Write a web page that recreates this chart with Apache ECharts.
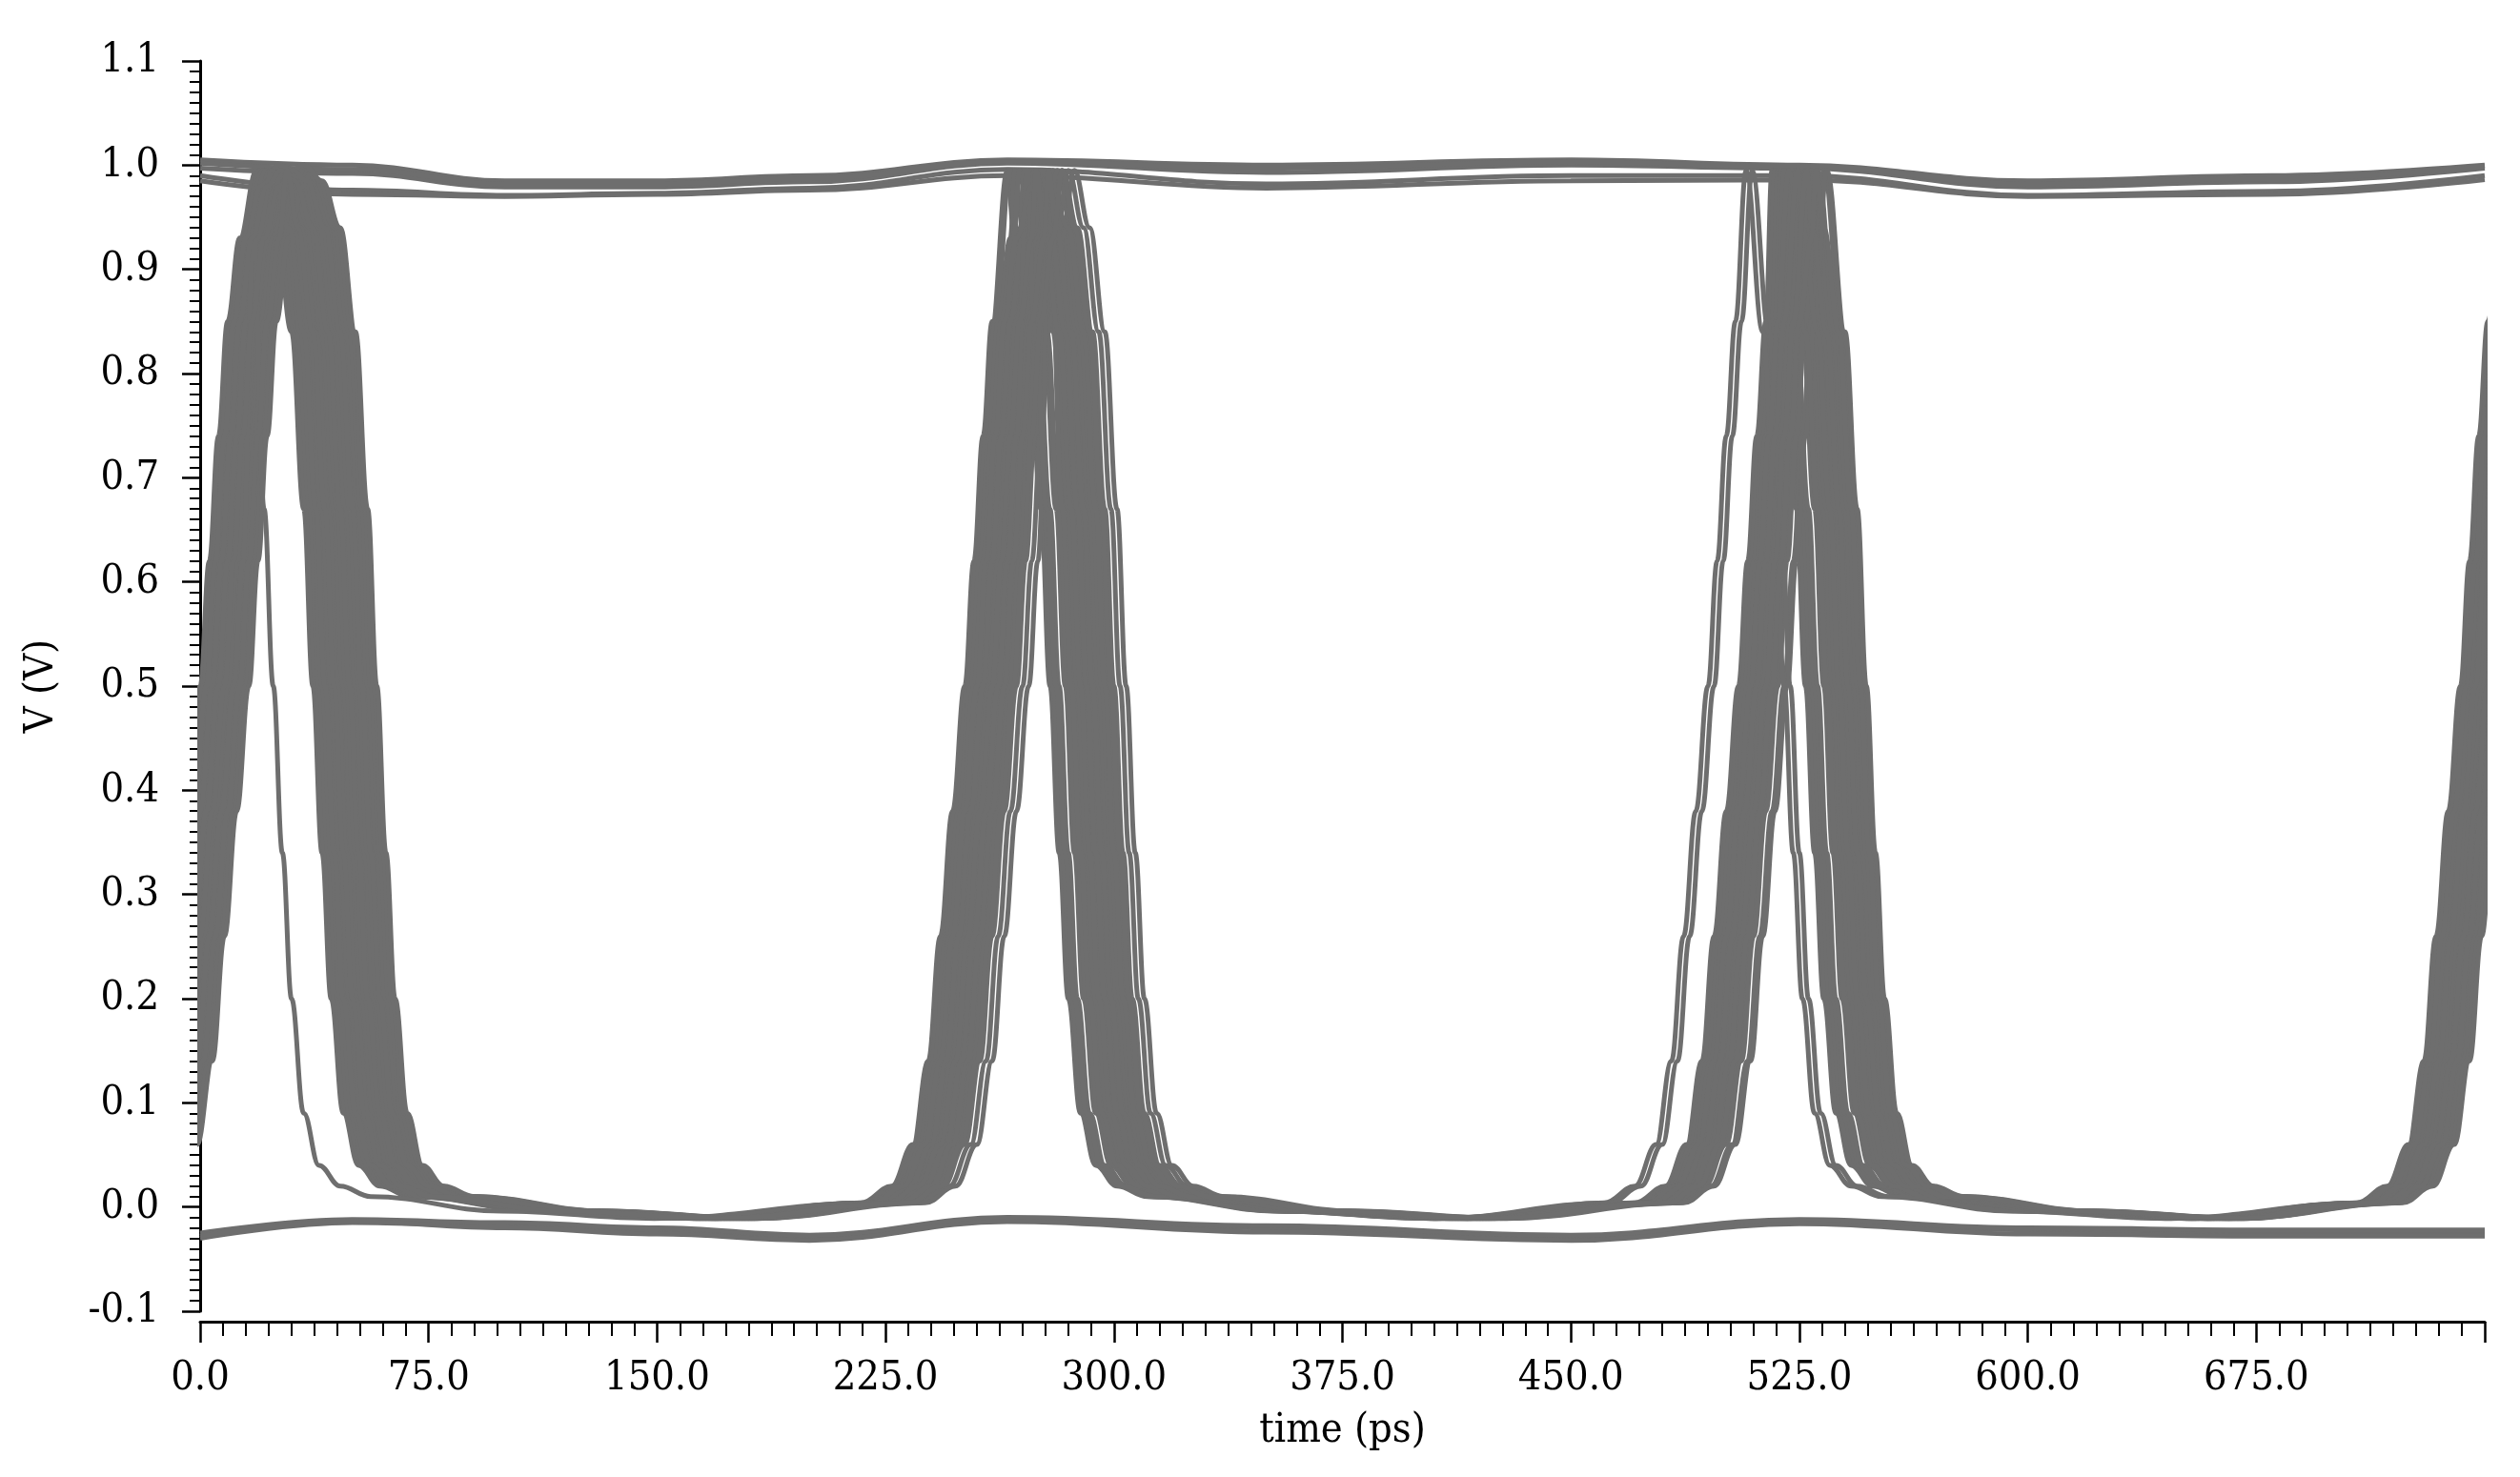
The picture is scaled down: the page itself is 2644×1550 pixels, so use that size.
<!DOCTYPE html>
<html>
<head>
<meta charset="utf-8">
<script src="https://cdn.jsdelivr.net/npm/echarts@6/dist/echarts.min.js"></script>
<style>html,body{margin:0;background:#fff}#chart{width:2644px;height:1550px}</style>
</head>
<body>
<div id="chart"></div>
<script>
// 眼图数据：每条脉冲轨迹在各窗口的上升/下降 50% 时刻 (ps)
var riseW1 = [0, 1, 2, 3, 4, 5, 6, 7, 8, 9, 10, 11, 12, 13, 14, 15, 16, 2, 6, 9, 11, 4, 8, 13];
var fallW1 = [37, 38, 39, 40, 42, 43, 44, 46, 47, 48, 50, 51, 52, 54, 55, 56, 57, 58, 41, 45, 24, 49, 53, 44];
var riseW2 = [251, 252, 253, 254, 256, 257, 258, 259, 260, 261, 262, 263, 264, 265, 266, 268, 270, 272, 257, 262, 255, 260, 264, 267];
var fallW2 = [279, 280, 282, 284, 285, 287, 288, 290, 291, 292, 294, 295, 296, 298, 300, 302, 304, 286, 291, 281, 297, 289, 293, 299];
var riseW3 = [505, 506, 507, 508, 509, 510, 510, 511, 512, 512, 513, 514, 515, 516, 517, 518, 520, 521, 495, 497, 509, 511, 514, 516];
var fallW3 = [527, 528, 529, 530, 531, 533, 534, 535, 536, 537, 539, 540, 541, 542, 543, 544, 546, 547, 520, 522, 534, 538, 541, 545];
var riseW4 = [742, 743, 744, 745, 746, 747, 748, 749, 750, 751, 752, 753, 754, 755, 756, 757, 746, 749, 745, 748, 751, 753, 744, 747];
var riseShape = [[-34, 0.004], [-24, 0.02], [-17, 0.06], [-12, 0.14], [-8, 0.26], [-4, 0.38], [0, 0.5], [3, 0.62], [6, 0.74], [9, 0.85], [13, 0.93], [18, 0.98], [24, 1.0]];
var fallShape = [[-24, 1.0], [-18, 0.985], [-12, 0.94], [-7, 0.84], [-3, 0.67], [0, 0.5], [3, 0.34], [6, 0.2], [10, 0.09], [15, 0.04], [22, 0.02], [32, 0.01]];
// 两段之间的低电平 (相对下降时刻的时间, 电压)
var lowGap = [[75, -0.004], [125, -0.011]];
// 常高、常低轨迹
var flatTimes = [0, 50, 100, 150, 200, 265, 350, 450, 525, 600, 680, 750];
var highA = [1.005, 1.0, 0.985, 0.985, 0.99, 1.005, 1.0, 1.005, 1.0, 0.985, 0.99, 1.0];
var highB = [0.997, 0.992, 0.979, 0.979, 0.984, 1.002, 0.993, 1.0, 0.997, 0.979, 0.984, 0.997];
var highC = [0.99, 0.976, 0.971, 0.973, 0.978, 0.996, 0.982, 0.99, 0.99, 0.971, 0.975, 0.99];
var highD = [0.985, 0.972, 0.97, 0.972, 0.976, 0.99, 0.978, 0.985, 0.986, 0.97, 0.972, 0.986];
var highE = [1.002, 0.996, 0.982, 0.982, 0.987, 1.004, 0.997, 1.003, 0.999, 0.982, 0.987, 0.999];
var lowA = [-0.03, -0.015, -0.018, -0.022, -0.03, -0.012, -0.02, -0.03, -0.014, -0.022, -0.025, -0.025];
var lowB = [-0.025, -0.012, -0.015, -0.02, -0.027, -0.01, -0.018, -0.027, -0.012, -0.02, -0.022, -0.022];
var lowC = [-0.028, -0.014, -0.02, -0.026, -0.032, -0.014, -0.024, -0.032, -0.016, -0.026, -0.028, -0.028];

function edge(shape, t0, lo, hi) {
    return shape.map(function (p) { return [t0 + p[0], p[1]]; }).filter(function (p) { return p[0] > lo && p[0] < hi; });
}
function pulseTrace(k) {
    var pts = [];
    var pulses = [[riseW1[k], fallW1[k]], [riseW2[k], fallW2[k]], [riseW3[k], fallW3[k]]];
    var prevEnd = -40;
    pulses.forEach(function (pr) {
        var mid = (pr[0] + pr[1]) / 2;
        pts = pts.concat(edge(riseShape, pr[0], prevEnd, mid - 1));
        pts.push([mid, pr[1] - pr[0] < 15 ? 0.94 : 0.995]);
        pts = pts.concat(edge(fallShape, pr[1], mid + 1, 1e9));
        lowGap.forEach(function (g) { pts.push([pr[1] + g[0], g[1]]); });
        prevEnd = pr[1] + lowGap[lowGap.length - 1][0];
    });
    pts = pts.concat(edge(riseShape, riseW4[k], prevEnd, 1e9));
    return pts;
}
function flat(vals) { return flatTimes.map(function (t, i) { return [t, vals[i]]; }); }

var series = [];
var lineStyle = {color: '#6e6e6e', width: 5};
[highA, highB, highC, highD, highE, lowA, lowB, lowC].forEach(function (v) {
    series.push({type: 'line', data: flat(v), showSymbol: false, smooth: 0.4, smoothMonotone: 'x', lineStyle: lineStyle, silent: true, clip: true});
});
for (var k = 0; k < riseW1.length; k++) {
    series.push({type: 'line', data: pulseTrace(k), showSymbol: false, smooth: 0.4, smoothMonotone: 'x', lineStyle: lineStyle, silent: true, clip: true});
}

var font = 'DejaVu Serif Condensed, DejaVu Serif';
var chart = echarts.init(document.getElementById('chart'));
chart.setOption({
    animation: false,
    grid: {left: 210, right: 37, top: 64, bottom: 174},
    xAxis: {
        type: 'value', min: 0, max: 750, interval: 75, offset: 11,
        name: 'time (ps)', nameLocation: 'middle', nameGap: 93,
        nameTextStyle: {fontFamily: font, fontSize: 43, color: '#000'},
        axisLine: {onZero: false, lineStyle: {color: '#000', width: 3}},
        axisTick: {length: 22, lineStyle: {color: '#000', width: 2.5}},
        minorTick: {show: true, splitNumber: 10, length: 15, lineStyle: {color: '#000', width: 2}},
        splitLine: {show: false},
        axisLabel: {fontFamily: font, fontSize: 43, color: '#000', margin: 38,
            formatter: function (v) { return v === 750 ? '' : v.toFixed(1); }}
    },
    yAxis: {
        type: 'value', min: -0.1, max: 1.1, interval: 0.1, offset: 13,
        name: 'V (V)', nameLocation: 'middle', nameGap: 132,
        nameTextStyle: {fontFamily: font, fontSize: 43, color: '#000'},
        axisLine: {show: true, lineStyle: {color: '#000', width: 3}},
        axisTick: {show: true, length: 19, lineStyle: {color: '#000', width: 2.5}},
        minorTick: {show: true, splitNumber: 10, length: 11, lineStyle: {color: '#000', width: 2}},
        splitLine: {show: false},
        axisLabel: {fontFamily: font, fontSize: 43, color: '#000', margin: 30,
            formatter: function (v) { return v.toFixed(1); }}
    },
    series: series
});
</script>
</body>
</html>
